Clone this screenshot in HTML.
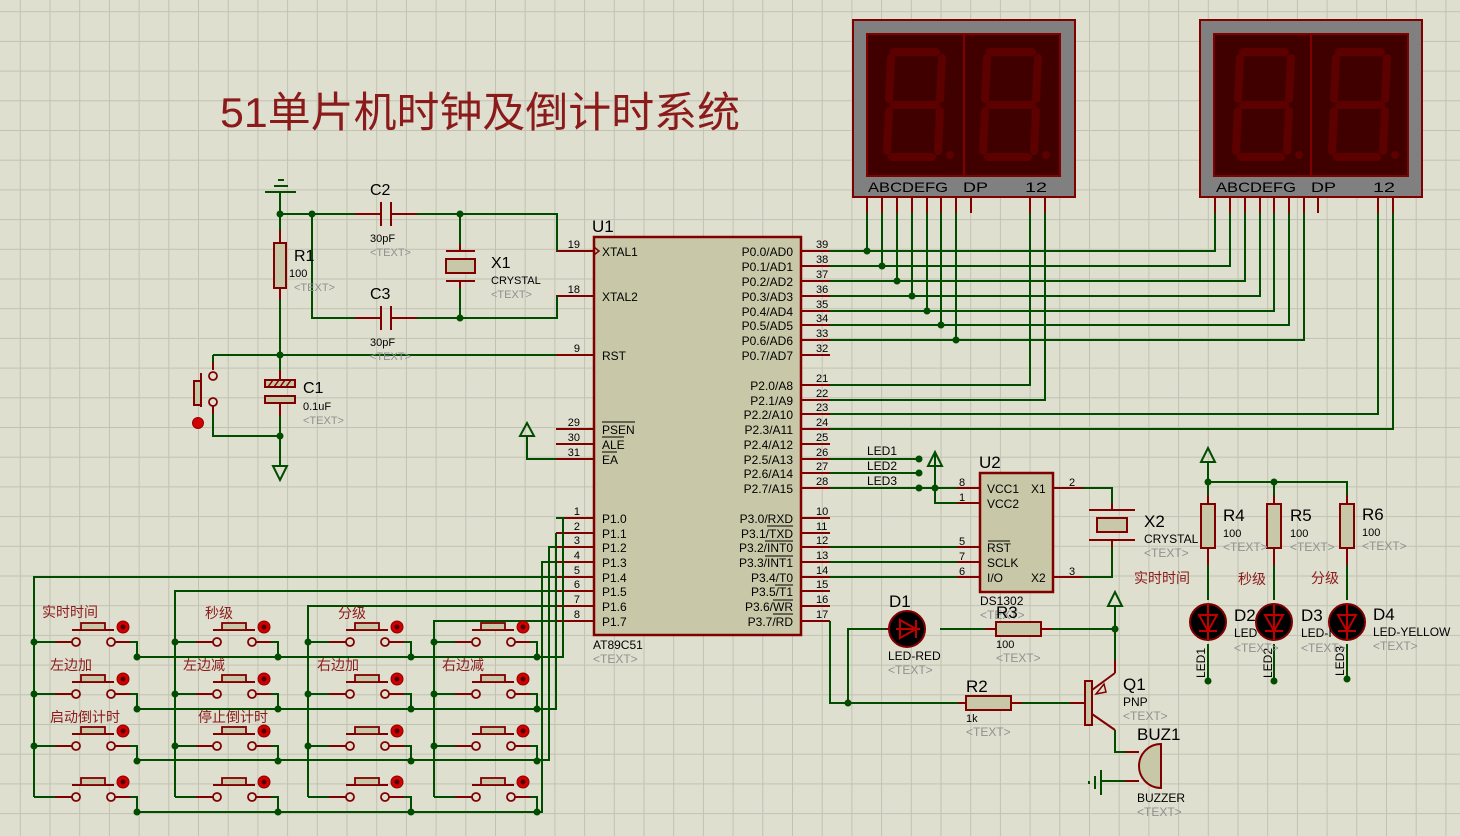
<!DOCTYPE html>
<html><head><meta charset="utf-8"><style>
html,body{margin:0;padding:0;background:#dfdfd0;}
svg{display:block;}
text{font-family:"Liberation Sans","Noto Sans CJK SC",sans-serif;}
</style></head><body>
<svg width="1460" height="836" viewBox="0 0 1460 836" xmlns="http://www.w3.org/2000/svg">
<defs>
<pattern id="grid" x="19.8" y="11.2" width="29.7" height="29.7" patternUnits="userSpaceOnUse">
<path d="M0 0H29.7M0 0V29.7" stroke="#c2c2b2" stroke-width="2" fill="none"/>
</pattern>
<g id="sw">
<line x1="0" y1="0" x2="21" y2="0" stroke="#004d00" stroke-width="2"/>
<line x1="21" y1="0" x2="38" y2="0" stroke="#800000" stroke-width="2"/>
<circle cx="42" cy="0" r="4" fill="#dfdfd0" stroke="#800000" stroke-width="1.8"/>
<circle cx="77" cy="0" r="4" fill="#dfdfd0" stroke="#800000" stroke-width="1.8"/>
<line x1="81" y1="0" x2="96" y2="0" stroke="#800000" stroke-width="2"/>
<polyline points="96,0 103,0 103,15" fill="none" stroke="#004d00" stroke-width="2"/>
<line x1="38" y1="-12" x2="80" y2="-12" stroke="#800000" stroke-width="2"/>
<rect x="47" y="-19" width="24" height="7" fill="#c8c8a8" stroke="#800000" stroke-width="1.8"/>
<circle cx="89" cy="-15" r="6" fill="#d00000" stroke="#900000" stroke-width="1"/>
<circle cx="89" cy="-15" r="2.5" fill="#500000"/>
<circle cx="103" cy="15" r="3.5" fill="#004d00"/>
</g>
<g id="seg" stroke="#5c0000" stroke-width="8" stroke-linecap="round">
<line x1="8" y1="0" x2="50" y2="0"/><line x1="56" y1="6" x2="54" y2="47"/><line x1="54" y1="59" x2="52" y2="99"/>
<line x1="6" y1="105" x2="46" y2="105"/><line x1="3" y1="59" x2="1" y2="99"/><line x1="5" y1="6" x2="3" y2="47"/>
<line x1="8" y1="53" x2="50" y2="53"/><circle cx="64" cy="103" r="4" fill="#5c0000" stroke="none"/>
</g>
</defs>
<rect width="1460" height="836" fill="#dfdfd0"/>
<rect width="1460" height="836" fill="url(#grid)"/>

<!-- Title -->
<text x="220" y="127" font-size="42" fill="#8b1a1a" textLength="520" lengthAdjust="spacingAndGlyphs">51单片机时钟及倒计时系统</text>

<!-- 7seg displays -->
<g>
<rect x="853" y="20" width="222" height="177" fill="#808080" stroke="#800000" stroke-width="2"/>
<rect x="867" y="34" width="193" height="142" fill="#400000" stroke="#800000" stroke-width="2"/>
<line x1="964" y1="34" x2="964" y2="176" stroke="#800000" stroke-width="2"/>
<use href="#seg" x="886" y="52"/><use href="#seg" x="982" y="52"/>
<g font-size="14" fill="#000" font-family="Liberation Mono,monospace">
<text x="868" y="192" textLength="80" lengthAdjust="spacingAndGlyphs">ABCDEFG</text>
<text x="963" y="192" textLength="25" lengthAdjust="spacingAndGlyphs">DP</text>
<text x="1025" y="192" textLength="22" lengthAdjust="spacingAndGlyphs">12</text>
</g>
<rect x="1200" y="20" width="222" height="177" fill="#808080" stroke="#800000" stroke-width="2"/>
<rect x="1214" y="34" width="194" height="142" fill="#400000" stroke="#800000" stroke-width="2"/>
<line x1="1311" y1="34" x2="1311" y2="176" stroke="#800000" stroke-width="2"/>
<use href="#seg" x="1235" y="52"/><use href="#seg" x="1331" y="52"/>
<g font-size="14" fill="#000" font-family="Liberation Mono,monospace">
<text x="1216" y="192" textLength="80" lengthAdjust="spacingAndGlyphs">ABCDEFG</text>
<text x="1311" y="192" textLength="25" lengthAdjust="spacingAndGlyphs">DP</text>
<text x="1373" y="192" textLength="22" lengthAdjust="spacingAndGlyphs">12</text>
</g>
</g>
<!-- display pins -->
<g stroke="#800000" stroke-width="2">
<path d="M867 197V213M882 197V213M897 197V213M912 197V213M927 197V213M941 197V213M956 197V213M971 197V213M1030 197V213M1045 197V213"/>
<path d="M1215 197V213M1230 197V213M1245 197V213M1260 197V213M1274 197V213M1289 197V213M1304 197V213M1318 197V213M1378 197V213M1393 197V213"/>
</g>
<g stroke="#004d00" stroke-width="2" fill="none">
<path d="M867 213V251M882 213V266M897 213V281M912 213V296M927 213V311M941 213V325M956 213V340"/>
<path d="M830 251H1215V213M830 266H1230V213M830 281H1245V213M830 296H1260V213M830 311H1274V213M830 325H1289V213M830 340H1304V213"/>
<path d="M830 385H1030V213M830 400H1045V213M830 414H1378V213M830 429H1393V213"/>
<path d="M830 459H919M830 473H919M830 488H919"/>
<path d="M935 466V503H980M919 488H980"/>
<path d="M830 547H980M830 562H980M830 577H980"/>
</g>
<g fill="#004d00">
<circle cx="867" cy="251" r="3.5"/><circle cx="882" cy="266" r="3.5"/><circle cx="897" cy="281" r="3.5"/><circle cx="912" cy="296" r="3.5"/><circle cx="927" cy="311" r="3.5"/><circle cx="941" cy="325" r="3.5"/><circle cx="956" cy="340" r="3.5"/>
<circle cx="919" cy="459" r="3.5"/><circle cx="919" cy="473" r="3.5"/><circle cx="919" cy="488" r="3.5"/><circle cx="935" cy="488" r="3.5"/>
</g>
<path d="M935 466V452M928 466L935 452L942 466Z" stroke="#004d00" stroke-width="2" fill="none"/>
<g font-size="12" fill="#000">
<text x="867" y="455">LED1</text><text x="867" y="470">LED2</text><text x="867" y="485">LED3</text>
</g>

<!-- U1 -->
<rect x="594" y="237" width="207" height="398" fill="#c8c8a8" stroke="#800000" stroke-width="2.5"/>
<text x="592" y="232" font-size="17" fill="#000">U1</text>
<text x="593" y="649" font-size="12" fill="#000">AT89C51</text>
<text x="593" y="663" font-size="12" fill="#909090">&lt;TEXT&gt;</text>
<g stroke="#800000" stroke-width="2">
<path d="M556 251H594M556 296H594M556 355H594M556 429H594M556 444H594M556 459H594"/>
<path d="M556 518H594M556 533H594M556 547H594M556 562H594M556 577H594M556 591H594M556 606H594M556 621H594"/>
<path d="M801 251H830M801 266H830M801 281H830M801 296H830M801 311H830M801 325H830M801 340H830M801 355H830"/>
<path d="M801 385H830M801 400H830M801 414H830M801 429H830M801 444H830M801 459H830M801 473H830M801 488H830"/>
<path d="M801 518H830M801 533H830M801 547H830M801 562H830M801 577H830M801 591H830M801 606H830M801 621H830"/>
</g>
<path d="M594 247L599 251L594 255" stroke="#800000" stroke-width="1.5" fill="none"/>
<g font-size="11" fill="#000" text-anchor="end">
<text x="580" y="248">19</text><text x="580" y="293">18</text><text x="580" y="352">9</text>
<text x="580" y="426">29</text><text x="580" y="441">30</text><text x="580" y="456">31</text>
<text x="580" y="515">1</text><text x="580" y="530">2</text><text x="580" y="544">3</text><text x="580" y="559">4</text><text x="580" y="574">5</text><text x="580" y="588">6</text><text x="580" y="603">7</text><text x="580" y="618">8</text>
</g>
<g font-size="11" fill="#000">
<text x="816" y="248">39</text><text x="816" y="263">38</text><text x="816" y="278">37</text><text x="816" y="293">36</text><text x="816" y="308">35</text><text x="816" y="322">34</text><text x="816" y="337">33</text><text x="816" y="352">32</text>
<text x="816" y="382">21</text><text x="816" y="397">22</text><text x="816" y="411">23</text><text x="816" y="426">24</text><text x="816" y="441">25</text><text x="816" y="456">26</text><text x="816" y="470">27</text><text x="816" y="485">28</text>
<text x="816" y="515">10</text><text x="816" y="530">11</text><text x="816" y="544">12</text><text x="816" y="559">13</text><text x="816" y="574">14</text><text x="816" y="588">15</text><text x="816" y="603">16</text><text x="816" y="618">17</text>
</g>
<g font-size="12" fill="#000">
<text x="602" y="256">XTAL1</text><text x="602" y="301">XTAL2</text><text x="602" y="360">RST</text>
<text x="602" y="434">PSEN</text><text x="602" y="449">ALE</text><text x="602" y="464">EA</text>
<text x="602" y="523">P1.0</text><text x="602" y="538">P1.1</text><text x="602" y="552">P1.2</text><text x="602" y="567">P1.3</text><text x="602" y="582">P1.4</text><text x="602" y="596">P1.5</text><text x="602" y="611">P1.6</text><text x="602" y="626">P1.7</text>
</g>
<path d="M602 422H635M602 437H624M602 452H617" stroke="#000" stroke-width="1"/>
<g font-size="12" fill="#000" text-anchor="end">
<text x="793" y="256">P0.0/AD0</text><text x="793" y="271">P0.1/AD1</text><text x="793" y="286">P0.2/AD2</text><text x="793" y="301">P0.3/AD3</text><text x="793" y="316">P0.4/AD4</text><text x="793" y="330">P0.5/AD5</text><text x="793" y="345">P0.6/AD6</text><text x="793" y="360">P0.7/AD7</text>
<text x="793" y="390">P2.0/A8</text><text x="793" y="405">P2.1/A9</text><text x="793" y="419">P2.2/A10</text><text x="793" y="434">P2.3/A11</text><text x="793" y="449">P2.4/A12</text><text x="793" y="464">P2.5/A13</text><text x="793" y="478">P2.6/A14</text><text x="793" y="493">P2.7/A15</text>
<text x="793" y="523">P3.0/RXD</text><text x="793" y="538">P3.1/TXD</text><text x="793" y="552">P3.2/INT0</text><text x="793" y="567">P3.3/INT1</text><text x="793" y="582">P3.4/T0</text><text x="793" y="596">P3.5/T1</text><text x="793" y="611">P3.6/WR</text><text x="793" y="626">P3.7/RD</text>
</g>
<path d="M767 526H793M765 541H793M765 556H793M775 585H793M773 600H793M773 614H793" stroke="#000" stroke-width="1"/>

<!-- Oscillator / reset -->
<g stroke="#004d00" stroke-width="2" fill="none">
<path d="M280 192V243M280 288V380M280 403V466M280 214H355M417 214H557V251M312 214V318H355M417 318H557V296M460 214V251M460 281V318"/>
<path d="M213 355H556M213 355V370M213 408V436H280M527 436V459H556"/>
</g>
<g stroke="#800000" stroke-width="2" fill="none">
<path d="M280 230V243M280 288V300M280 370V380M280 403V416M355 214H381M391 214H417M355 318H381M391 318H417M381 202V226M391 202V226M381 306V330M391 306V330"/>
<path d="M446 251H475M446 281H475M460 251V244M460 281V288"/>
<path d="M213 362V370M213 406V414M201 373V407"/>
</g>
<rect x="274" y="243" width="12" height="45" fill="#c8c8a8" stroke="#800000" stroke-width="2"/>
<rect x="446" y="259" width="29" height="14" fill="#c8c8a8" stroke="#800000" stroke-width="2"/>
<rect x="265" y="380" width="30" height="7" fill="#c8c8a8" stroke="#800000" stroke-width="2"/>
<path d="M268 387l5-7M274 387l5-7M280 387l5-7M286 387l5-7" stroke="#800000" stroke-width="1.5"/>
<rect x="265" y="396" width="30" height="7" fill="#c8c8a8" stroke="#800000" stroke-width="2"/>
<rect x="194" y="381" width="7" height="24" fill="#c8c8a8" stroke="#800000" stroke-width="2"/>
<circle cx="213" cy="376" r="4" fill="#dfdfd0" stroke="#800000" stroke-width="1.8"/>
<circle cx="213" cy="402" r="4" fill="#dfdfd0" stroke="#800000" stroke-width="1.8"/>
<circle cx="198" cy="423" r="5.5" fill="#d00000" stroke="#900" stroke-width="1"/>
<g fill="#004d00"><circle cx="280" cy="214" r="3.5"/><circle cx="312" cy="214" r="3.5"/><circle cx="460" cy="214" r="3.5"/><circle cx="460" cy="318" r="3.5"/><circle cx="280" cy="355" r="3.5"/><circle cx="280" cy="436" r="3.5"/></g>
<path d="M265 192H296M274 186H288M278 180H284" stroke="#004d00" stroke-width="2"/>
<path d="M273 466L280 480L287 466Z" stroke="#004d00" stroke-width="2" fill="none"/>
<path d="M520 436L527 423L534 436Z" stroke="#004d00" stroke-width="2" fill="none"/>
<g fill="#000">
<text x="370" y="195" font-size="16">C2</text><text x="370" y="242" font-size="11">30pF</text>
<text x="370" y="299" font-size="16">C3</text><text x="370" y="346" font-size="11">30pF</text>
<text x="294" y="261" font-size="16">R1</text><text x="289" y="277" font-size="11">100</text>
<text x="491" y="268" font-size="16">X1</text><text x="491" y="284" font-size="11">CRYSTAL</text>
<text x="303" y="393" font-size="16">C1</text><text x="303" y="410" font-size="11">0.1uF</text>
</g>
<g fill="#909090" font-size="11">
<text x="370" y="256">&lt;TEXT&gt;</text><text x="370" y="360">&lt;TEXT&gt;</text><text x="294" y="291">&lt;TEXT&gt;</text><text x="491" y="298">&lt;TEXT&gt;</text><text x="303" y="424">&lt;TEXT&gt;</text>
</g>

<!-- Keypad wiring -->
<g stroke="#004d00" stroke-width="2" fill="none">
<path d="M556 518H563V657H137M556 533H556V709H137M556 547H549V760H137M556 562H542V812H137"/>
<path d="M556 577H34V797M556 591H175V797M556 606H308V797M556 621H434V797"/>
</g>
<use href="#sw" x="34" y="642"/><use href="#sw" x="175" y="642"/><use href="#sw" x="308" y="642"/><use href="#sw" x="434" y="642"/>
<use href="#sw" x="34" y="694"/><use href="#sw" x="175" y="694"/><use href="#sw" x="308" y="694"/><use href="#sw" x="434" y="694"/>
<use href="#sw" x="34" y="746"/><use href="#sw" x="175" y="746"/><use href="#sw" x="308" y="746"/><use href="#sw" x="434" y="746"/>
<use href="#sw" x="34" y="797"/><use href="#sw" x="175" y="797"/><use href="#sw" x="308" y="797"/><use href="#sw" x="434" y="797"/>
<g fill="#004d00">
<circle cx="34" cy="642" r="3.5"/><circle cx="175" cy="642" r="3.5"/><circle cx="308" cy="642" r="3.5"/><circle cx="434" cy="642" r="3.5"/>
<circle cx="34" cy="694" r="3.5"/><circle cx="175" cy="694" r="3.5"/><circle cx="308" cy="694" r="3.5"/><circle cx="434" cy="694" r="3.5"/>
<circle cx="34" cy="746" r="3.5"/><circle cx="175" cy="746" r="3.5"/><circle cx="308" cy="746" r="3.5"/><circle cx="434" cy="746" r="3.5"/>
</g>
<g font-size="14" fill="#8b1a1a">
<text x="42" y="617">实时时间</text><text x="205" y="618">秒级</text><text x="338" y="618">分级</text>
<text x="50" y="670">左边加</text><text x="183" y="670">左边减</text><text x="317" y="670">右边加</text><text x="442" y="670">右边减</text>
<text x="50" y="722">启动倒计时</text><text x="198" y="722">停止倒计时</text>
</g>

<!-- U2 DS1302 -->
<rect x="980" y="473" width="73" height="119" fill="#c8c8a8" stroke="#800000" stroke-width="2.5"/>
<g stroke="#800000" stroke-width="2">
<path d="M957 488H980M957 503H980M957 547H980M957 562H980M957 577H980M1053 488H1083M1053 577H1083"/>
<path d="M1089 510H1135M1089 540H1135M1112 503V510M1112 540V547"/>
</g>
<path d="M1083 488H1112V503M1083 577H1112V547" stroke="#004d00" stroke-width="2" fill="none"/>
<rect x="1097" y="518" width="30" height="14" fill="#c8c8a8" stroke="#800000" stroke-width="2"/>
<g fill="#000">
<text x="979" y="468" font-size="17">U2</text>
<text x="987" y="493" font-size="12">VCC1</text><text x="987" y="508" font-size="12">VCC2</text>
<text x="987" y="552" font-size="12">RST</text><text x="987" y="567" font-size="12">SCLK</text><text x="987" y="582" font-size="12">I/O</text>
<text x="1031" y="493" font-size="12">X1</text><text x="1031" y="582" font-size="12">X2</text>
<text x="959" y="486" font-size="11">8</text><text x="959" y="501" font-size="11">1</text><text x="959" y="545" font-size="11">5</text><text x="959" y="560" font-size="11">7</text><text x="959" y="575" font-size="11">6</text>
<text x="1069" y="486" font-size="11">2</text><text x="1069" y="575" font-size="11">3</text>
<text x="980" y="605" font-size="12">DS1302</text>
<text x="1144" y="527" font-size="17">X2</text><text x="1144" y="543" font-size="12">CRYSTAL</text>
</g>
<path d="M988 541H1010" stroke="#000" stroke-width="1"/>
<text x="980" y="619" font-size="12" fill="#909090">&lt;TEXT&gt;</text>
<text x="1144" y="557" font-size="12" fill="#909090">&lt;TEXT&gt;</text>

<!-- D1, R3, R2, Q1, buzzer -->
<g stroke="#004d00" stroke-width="2" fill="none">
<path d="M830 621V703H968M848 703V629H886M940 629H985M1052 629H1115V606M1022 703H1070M1115 629V673M1115 730V752H1125M1101 781H1125"/>
</g>
<g stroke="#800000" stroke-width="2" fill="none">
<path d="M886 629H925M985 629H996M1041 629H1052M958 703H966M1011 703H1022M1070 703H1085M1092 690L1115 673M1092 714L1115 730M1115 673V660M1125 752H1139M1125 781H1139"/>
</g>
<circle cx="907" cy="629" r="18" fill="#000" stroke="#800000" stroke-width="2"/>
<path d="M916 620V638M916 629L900 620V638Z M896 629H920" stroke="#c00000" stroke-width="2" fill="none"/>
<rect x="996" y="622" width="45" height="14" fill="#c8c8a8" stroke="#800000" stroke-width="2"/>
<rect x="966" y="696" width="45" height="14" fill="#c8c8a8" stroke="#800000" stroke-width="2"/>
<rect x="1085" y="681" width="7" height="44" fill="#c8c8a8" stroke="#800000" stroke-width="2"/>
<path d="M1096 694L1104 684L1106 692Z" stroke="#800000" stroke-width="1.5" fill="none"/>
<path d="M1161 744A22 22 0 0 0 1161 788Z" fill="#c8c8a8" stroke="#800000" stroke-width="2"/>
<path d="M1101 770V795M1095 776V789M1089 781V784" stroke="#004d00" stroke-width="2"/>
<path d="M1108 606L1115 592L1122 606Z" stroke="#004d00" stroke-width="2" fill="none"/>
<g fill="#004d00"><circle cx="848" cy="703" r="3.5"/><circle cx="1115" cy="629" r="3.5"/></g>
<g fill="#000">
<text x="889" y="607" font-size="17">D1</text><text x="888" y="660" font-size="12">LED-RED</text>
<text x="996" y="618" font-size="17">R3</text><text x="996" y="648" font-size="11">100</text>
<text x="966" y="692" font-size="17">R2</text><text x="966" y="722" font-size="11">1k</text>
<text x="1123" y="690" font-size="17">Q1</text><text x="1123" y="706" font-size="12">PNP</text>
<text x="1137" y="740" font-size="17">BUZ1</text><text x="1137" y="802" font-size="12">BUZZER</text>
</g>
<g fill="#909090" font-size="12">
<text x="888" y="674">&lt;TEXT&gt;</text><text x="996" y="662">&lt;TEXT&gt;</text><text x="966" y="736">&lt;TEXT&gt;</text><text x="1123" y="720">&lt;TEXT&gt;</text><text x="1137" y="816">&lt;TEXT&gt;</text>
</g>

<!-- right LEDs -->
<g stroke="#004d00" stroke-width="2" fill="none">
<path d="M1208 462V482H1347V495M1274 482V495M1208 482V495M1208 565V600M1274 565V600M1347 565V600M1208 644V681M1274 644V681M1347 644V681"/>
</g>
<path d="M1201 462L1208 448L1215 462Z" stroke="#004d00" stroke-width="2" fill="none"/>
<g stroke="#800000" stroke-width="2"><path d="M1208 495V504M1274 495V504M1347 495V504M1208 548V565M1274 548V565M1347 548V565"/></g>
<rect x="1201" y="504" width="14" height="44" fill="#c8c8a8" stroke="#800000" stroke-width="2"/>
<rect x="1267" y="504" width="14" height="44" fill="#c8c8a8" stroke="#800000" stroke-width="2"/>
<rect x="1340" y="504" width="14" height="44" fill="#c8c8a8" stroke="#800000" stroke-width="2"/>
<g>
<circle cx="1208" cy="622" r="18" fill="#000" stroke="#800000" stroke-width="2"/>
<circle cx="1274" cy="622" r="18" fill="#000" stroke="#800000" stroke-width="2"/>
<circle cx="1347" cy="622" r="18" fill="#000" stroke="#800000" stroke-width="2"/>
<path d="M1199 615H1217M1208 631L1199 615H1217Z M1199 631H1217M1208 604V640" stroke="#c00000" stroke-width="2" fill="none"/>
<path d="M1265 615H1283M1274 631L1265 615H1283Z M1265 631H1283M1274 604V640" stroke="#c00000" stroke-width="2" fill="none"/>
<path d="M1338 615H1356M1347 631L1338 615H1356Z M1338 631H1356M1347 604V640" stroke="#c00000" stroke-width="2" fill="none"/>
</g>
<g fill="#004d00"><circle cx="1208" cy="482" r="3.5"/><circle cx="1274" cy="482" r="3.5"/><circle cx="1208" cy="681" r="3.5"/><circle cx="1274" cy="681" r="3.5"/><circle cx="1347" cy="679" r="3.5"/></g>
<g fill="#000">
<text x="1223" y="521" font-size="17">R4</text><text x="1223" y="537" font-size="11">100</text>
<text x="1290" y="521" font-size="17">R5</text><text x="1290" y="537" font-size="11">100</text>
<text x="1362" y="520" font-size="17">R6</text><text x="1362" y="536" font-size="11">100</text>
<text x="1234" y="621" font-size="17">D2</text><text x="1234" y="637" font-size="12">LED</text>
<text x="1301" y="621" font-size="17">D3</text><text x="1301" y="637" font-size="12">LED-I</text>
<text x="1373" y="620" font-size="17">D4</text><text x="1373" y="636" font-size="12">LED-YELLOW</text>
<text x="1205" y="678" font-size="12" transform="rotate(-90 1205 678)">LED1</text>
<text x="1272" y="678" font-size="12" transform="rotate(-90 1272 678)">LED2</text>
<text x="1344" y="676" font-size="12" transform="rotate(-90 1344 676)">LED3</text>
</g>
<g fill="#909090" font-size="12">
<text x="1223" y="551">&lt;TEXT&gt;</text><text x="1290" y="551">&lt;TEXT&gt;</text><text x="1362" y="550">&lt;TEXT&gt;</text>
<text x="1234" y="652">&lt;TEXT&gt;</text><text x="1301" y="652">&lt;TEXT&gt;</text><text x="1373" y="650">&lt;TEXT&gt;</text>
</g>
<g font-size="14" fill="#8b1a1a">
<text x="1134" y="583">实时时间</text><text x="1238" y="584">秒级</text><text x="1311" y="583">分级</text>
</g>
</svg>
</body></html>
